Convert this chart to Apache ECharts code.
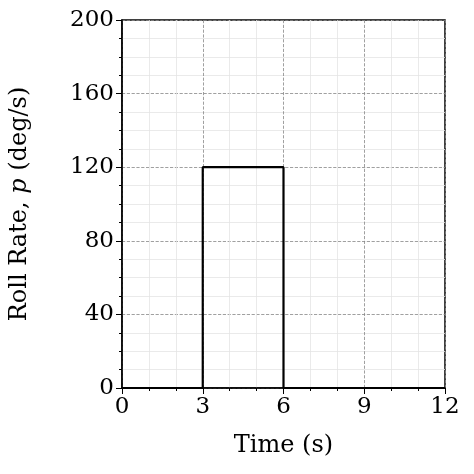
<!DOCTYPE html>
<html><head><meta charset="utf-8">
<script src="https://cdn.jsdelivr.net/npm/echarts@6/dist/echarts.min.js"></script>
<style>html,body{margin:0;padding:0;background:#fff}#c{width:474px;height:474px}</style>
</head><body><div id="c"></div>
<script>
var timeS = [0, 3, 3, 6, 6, 12];
var rollRate = [0, 0, 120, 120, 0, 0];
var xTicks = [0, 3, 6, 9, 12];
var yTicks = [0, 40, 80, 120, 160, 200];
var font = 'DejaVu Serif';
var chart = echarts.init(document.getElementById('c'));
chart.setOption({
  animation: false,
  grid: {left: 117, right: 29, top: 20, bottom: 86, show: true, borderColor: '#000', borderWidth: 1.5},
  xAxis: {
    type: 'value', min: 0, max: 12, interval: 3,
    name: 'Time (s)', nameLocation: 'middle', nameGap: 46,
    nameTextStyle: {fontFamily: font, fontSize: 24, color: '#000'},
    axisLine: {show: true, lineStyle: {color: '#000', width: 1.5}},
    axisTick: {show: true, length: 6, lineStyle: {color: '#000'}},
    minorTick: {show: true, splitNumber: 3, length: 3, lineStyle: {color: '#000'}},
    axisLabel: {fontFamily: font, fontSize: 23, color: '#000', margin: 8},
    splitLine: {show: true, lineStyle: {color: '#888', type: 'dashed', width: 0.8}},
    minorSplitLine: {show: true, lineStyle: {color: '#e4e4e4', width: 0.8}}
  },
  yAxis: {
    type: 'value', min: 0, max: 200, interval: 40,
    name: 'Roll Rate, {i|p} (deg/s)', nameLocation: 'middle', nameGap: 90,
    nameTextStyle: {fontFamily: font, fontSize: 24, color: '#000',
      rich: {i: {fontFamily: font, fontSize: 24, fontStyle: 'italic'}}},
    axisLine: {show: true, lineStyle: {color: '#000', width: 1.5}},
    axisTick: {show: true, length: 6, lineStyle: {color: '#000'}},
    minorTick: {show: true, splitNumber: 4, length: 3, lineStyle: {color: '#000'}},
    axisLabel: {fontFamily: font, fontSize: 23, color: '#000', margin: 8},
    splitLine: {show: true, lineStyle: {color: '#888', type: 'dashed', width: 0.8}},
    minorSplitLine: {show: true, lineStyle: {color: '#e4e4e4', width: 0.8}}
  },
  series: [{
    type: 'line', symbol: 'none',
    data: timeS.map(function(t, i){ return [t, rollRate[i]]; }),
    lineStyle: {color: '#000', width: 2.2}
  }]
});
</script></body></html>
